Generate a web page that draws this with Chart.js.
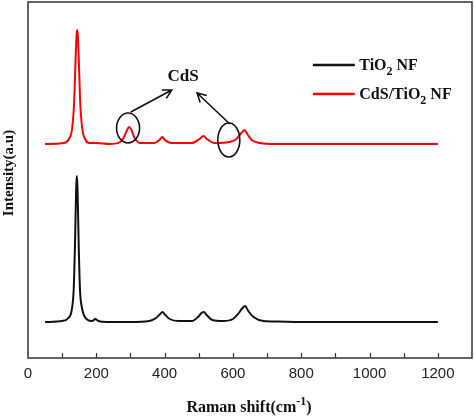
<!DOCTYPE html>
<html>
<head>
<meta charset="utf-8">
<script src="https://cdn.jsdelivr.net/npm/chart.js@4"></script>
<style>
  html, body { margin: 0; padding: 0; background: #fff; }
  #wrap { width: 474px; height: 418px; }
</style>
</head>
<body>
<div id="wrap"><canvas id="raman"></canvas></div>
<script>
// TiO2 NF spectrum (Raman shift cm-1 / intensity a.u.)
const tio2Shift = [50, 100, 118, 128, 134, 138, 141, 143, 145, 148, 152, 158, 165, 175, 188, 197, 206, 230, 300, 355, 375, 387, 394, 402, 415, 440, 480, 498, 508, 515, 523, 540, 570, 600, 615, 628, 636, 645, 660, 690, 730, 800, 1000, 1200];
const tio2Intensity = [36, 37, 40, 48, 70, 120, 170, 182, 170, 120, 70, 50, 42, 38, 37, 39, 37, 36, 36, 37, 40, 44, 46, 43, 39, 37, 37, 41, 45, 46, 43, 38, 37, 39, 44, 50, 52, 47, 41, 37, 36.5, 36, 36, 36];

// CdS/TiO2 NF spectrum
const cdsShift = [50, 105, 120, 129, 135, 139, 142, 144, 146, 149, 153, 159, 167, 180, 200, 240, 270, 280, 289, 296, 303, 312, 330, 370, 385, 393, 401, 420, 480, 502, 514, 524, 545, 590, 610, 625, 634, 642, 655, 680, 720, 1200];
const cdsIntensity = [214, 215, 219, 229, 255, 295, 322, 328, 322, 295, 255, 229, 219, 215, 215, 214, 216, 220, 227, 231, 228, 220, 215, 215, 218, 221, 218, 215, 215, 219, 222, 219, 215, 216, 219, 225, 228, 224, 218, 215, 214, 214];

const xTicks = [0, 200, 400, 600, 800, 1000, 1200];
const seriesNames = ['TiO2 NF', 'CdS/TiO2 NF'];
const seriesColors = ['#111111', '#ff0000'];

const toPoints = (xs, ys) => xs.map((v, i) => ({ x: v, y: ys[i] }));

// draw a string made of pieces, some of them sub/superscript
function richWidth(ctx, parts, size) {
  let w = 0;
  parts.forEach(p => {
    ctx.font = `bold ${p.sub || p.sup ? Math.round(size * 0.72) : size}px "Liberation Serif", serif`;
    w += ctx.measureText(p.t).width;
  });
  return w;
}
function drawRich(ctx, parts, x, y, size) {
  ctx.textBaseline = 'alphabetic';
  ctx.textAlign = 'left';
  parts.forEach(p => {
    const small = p.sub || p.sup;
    ctx.font = `bold ${small ? Math.round(size * 0.72) : size}px "Liberation Serif", serif`;
    const dy = p.sub ? size * 0.3 : (p.sup ? -size * 0.45 : 0);
    ctx.fillText(p.t, x, y + dy);
    x += ctx.measureText(p.t).width;
  });
}

function arrow(ctx, x1, y1, x2, y2) {
  const ang = Math.atan2(y2 - y1, x2 - x1);
  const h = 10;
  ctx.beginPath();
  ctx.moveTo(x1, y1);
  ctx.lineTo(x2, y2);
  ctx.moveTo(x2 - h * Math.cos(ang - 0.5), y2 - h * Math.sin(ang - 0.5));
  ctx.lineTo(x2, y2);
  ctx.lineTo(x2 - h * Math.cos(ang + 0.5), y2 - h * Math.sin(ang + 0.5));
  ctx.stroke();
}

const decorations = {
  id: 'decorations',
  afterDraw(chart) {
    const { ctx, chartArea: a, scales: { x, y } } = chart;
    ctx.save();

    // frame
    ctx.strokeStyle = '#333';
    ctx.lineWidth = 1.5;
    ctx.strokeRect(a.left, a.top, a.width, a.height);

    // inward ticks every 100
    ctx.lineWidth = 1.2;
    ctx.beginPath();
    for (let v = 100; v <= 1200; v += 100) {
      const px = Math.round(x.getPixelForValue(v)) + 0.5;
      ctx.moveTo(px, a.bottom);
      ctx.lineTo(px, a.bottom - 5);
    }
    ctx.stroke();

    ctx.fillStyle = '#111';

    // x title
    const xTitle = [{ t: 'Raman shift(cm' }, { t: '-1', sup: true }, { t: ')' }];
    const w = richWidth(ctx, xTitle, 16);
    drawRich(ctx, xTitle, 249 - w / 2, 412, 16);

    // y title
    ctx.save();
    ctx.translate(13, 173);
    ctx.rotate(-Math.PI / 2);
    ctx.font = 'bold 15px "Liberation Serif", serif';
    ctx.textAlign = 'center';
    ctx.textBaseline = 'alphabetic';
    ctx.fillText('Intensity(a.u)', 0, 0);
    ctx.restore();

    // legend
    const legendParts = [
      [{ t: 'TiO' }, { t: '2', sub: true }, { t: ' NF' }],
      [{ t: 'CdS/TiO' }, { t: '2', sub: true }, { t: ' NF' }]
    ];
    const legendY = [293, 264];
    ctx.lineWidth = 2.5;
    legendParts.forEach((parts, i) => {
      const ly = y.getPixelForValue(legendY[i]);
      ctx.strokeStyle = seriesColors[i];
      ctx.beginPath();
      ctx.moveTo(x.getPixelForValue(834), ly);
      ctx.lineTo(x.getPixelForValue(957), ly);
      ctx.stroke();
      ctx.fillStyle = '#111';
      drawRich(ctx, parts, x.getPixelForValue(970), ly + 5, 16);
    });

    // CdS annotation
    ctx.font = 'bold 17px "Liberation Serif", serif';
    ctx.textAlign = 'center';
    ctx.textBaseline = 'middle';
    ctx.fillText('CdS', x.getPixelForValue(454), y.getPixelForValue(281));

    ctx.strokeStyle = '#111';
    ctx.lineWidth = 1.6;
    ctx.beginPath();
    ctx.ellipse(x.getPixelForValue(293), y.getPixelForValue(230), 11.5, 15, 0, 0, Math.PI * 2);
    ctx.stroke();
    ctx.beginPath();
    ctx.ellipse(x.getPixelForValue(588), y.getPixelForValue(218), 11, 17, 0, 0, Math.PI * 2);
    ctx.stroke();
    arrow(ctx, x.getPixelForValue(301), y.getPixelForValue(246), x.getPixelForValue(421), y.getPixelForValue(268));
    arrow(ctx, x.getPixelForValue(591), y.getPixelForValue(234), x.getPixelForValue(495), y.getPixelForValue(265));

    ctx.restore();
  }
};

new Chart(document.getElementById('raman'), {
  type: 'line',
  data: {
    datasets: [
      {
        label: seriesNames[0],
        data: toPoints(tio2Shift, tio2Intensity),
        borderColor: seriesColors[0],
        borderWidth: 2,
        pointRadius: 0,
        cubicInterpolationMode: 'monotone'
      },
      {
        label: seriesNames[1],
        data: toPoints(cdsShift, cdsIntensity),
        borderColor: seriesColors[1],
        borderWidth: 2,
        pointRadius: 0,
        cubicInterpolationMode: 'monotone'
      }
    ]
  },
  options: {
    responsive: true,
    maintainAspectRatio: false,
    animation: false,
    layout: { padding: { left: 28, top: 2, right: 2, bottom: 0 } },
    plugins: {
      legend: { display: false },
      tooltip: { enabled: false }
    },
    scales: {
      x: {
        type: 'linear',
        min: 0,
        max: 1300,
        grid: { display: false, drawTicks: false },
        border: { display: false },
        afterFit: (s) => { s.height = 60; },
        afterBuildTicks: (s) => { s.ticks = xTicks.map(v => ({ value: v })); },
        ticks: {
          padding: 7,
          autoSkip: false,
          maxRotation: 0,
          color: '#222',
          font: { family: '"Liberation Sans", Arial, sans-serif', size: 15 },
          callback: (v) => String(v)
        }
      },
      y: {
        display: false,
        min: 0,
        max: 356
      }
    }
  },
  plugins: [decorations]
});
</script>
</body>
</html>
